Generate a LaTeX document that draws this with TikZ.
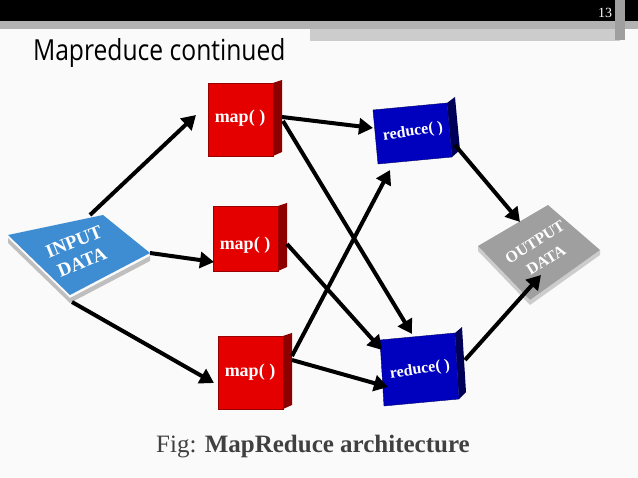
\documentclass[tikz,border=0pt]{standalone}
\usepackage{fontspec}
\setmainfont{Liberation Serif}
\newfontfamily\titlefont{Open Sans}
\usetikzlibrary{arrows.meta}
\begin{document}
\begin{tikzpicture}[x=1pt,y=-1pt,
  conn/.style={line width=4pt,-{Triangle[length=14pt,width=16pt]}},
  maplbl/.style={font=\bfseries\fontsize{18}{18}\selectfont,text=white},
  inlbl/.style={text=white,font=\bfseries\fontsize{19}{19}\selectfont,rotate=22,inner sep=0pt},
  outlbl/.style={text=white,font=\bfseries\fontsize{16}{16}\selectfont,rotate=32,inner sep=0pt},
  mapbox/.style={fill=red!90!black,draw=red!60!black},
  mapside/.style={fill=red!55!black},
  redbox/.style={fill=blue!75!black,draw=blue!40!black},
  redside/.style={fill=blue!35!black}]
\useasboundingbox (0,0) rectangle (638,478);
\fill[white!96!gray] (0,0) rectangle (638,478);
\fill[black] (0,0) rectangle (638,21);
\fill[gray!60] (0,21) rectangle (638,29);
\fill[gray!40] (310,29) rectangle (620,41);
\fill[gray!75] (615,0) rectangle (625,40);
\node[text=white,font=\fontsize{14}{14}\selectfont] (pg) at (605,13) {13};
\node[anchor=west,font=\titlefont\fontsize{29}{29}\selectfont,xscale=0.85] (title) at (30,53) {Mapreduce continued};

% input data
\fill[gray!50] (8,238) -- (70,298) -- (150,256) -- (150,261) -- (70,303) -- (8,243) -- cycle;
\fill[cyan!60!blue!80] (8,235) -- (103,215) -- (150,253) -- (70,295) -- cycle;
\node[inlbl] (in1) at (74,242) {INPUT};
\node[inlbl] (in2) at (82,262) {DATA};
% output data
\fill[gray!40] (478,246) -- (530,300) -- (600,250) -- (600,255) -- (530,305) -- (478,251) -- cycle;
\fill[gray!75] (478,246) -- (548,205) -- (600,250) -- (530,300) -- cycle;
\node[outlbl] (out1) at (535,242) {OUTPUT};
\node[outlbl] (out2) at (546,260) {DATA};

% maps
\fill[mapside] (273,83) -- (282,80) -- (282,152) -- (273,156) -- cycle;
\fill[mapbox] (208,83) rectangle (273,156);
\node[maplbl] (m1) at (240,118) {map( )};
\fill[mapside] (278,206) -- (287,203) -- (287,267) -- (278,271) -- cycle;
\fill[mapbox] (213,206) rectangle (278,271);
\node[maplbl] (m2) at (245,245) {map( )};
\fill[mapside] (283,336) -- (292,333) -- (292,405) -- (283,409) -- cycle;
\fill[mapbox] (218,336) rectangle (283,409);
\node[maplbl] (m3) at (250,372) {map( )};
% reduces
\fill[redside] (447,103) -- (455,97) -- (460,150) -- (452,157) -- cycle;
\fill[redbox] (373,110) -- (447,103) -- (452,157) -- (378,164) -- cycle;
\node[maplbl,rotate=8,font=\bfseries\fontsize{16}{16}\selectfont] (r1) at (413,132) {reduce( )};
\fill[redside] (455,333) -- (462,327) -- (466,392) -- (459,399) -- cycle;
\fill[redbox] (380,340) -- (455,333) -- (459,399) -- (384,406) -- cycle;
\node[maplbl,rotate=8,font=\bfseries\fontsize{16}{16}\selectfont] (r2) at (420,370) {reduce( )};

\coordinate (a1) at (90,215); \coordinate (b1) at (196,115);
\coordinate (a2) at (150,253); \coordinate (b2) at (214,262);
\coordinate (a3) at (72,302); \coordinate (b3) at (214,383);
\coordinate (a4) at (282,117); \coordinate (b4) at (373,128);
\coordinate (a5) at (283,121); \coordinate (b5) at (412,334);
\coordinate (a6) at (287,244); \coordinate (b6) at (382,350);
\coordinate (a7) at (292,356); \coordinate (b7) at (390,170);
\coordinate (a8) at (292,360); \coordinate (b8) at (388,387);
\coordinate (a9) at (455,145); \coordinate (b9) at (520,222);
\coordinate (a10) at (465,360); \coordinate (b10) at (541,275);
\foreach \i in {1,...,10} \draw[conn] (a\i) -- (b\i);

\node[text=black!75,font=\fontsize{25}{25}\selectfont] (cap) at (313,447) {Fig: \textbf{MapReduce architecture}};
\end{tikzpicture}
\end{document}
